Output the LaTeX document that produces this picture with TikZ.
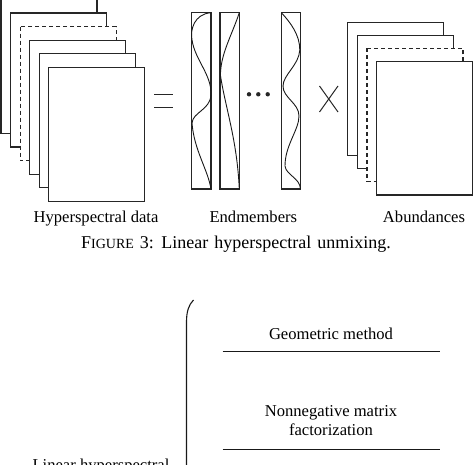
\documentclass[tikz,border=0pt]{standalone}
\usepackage{fontspec}
\setmainfont{Liberation Serif}
\begin{document}
\begin{tikzpicture}[x=1pt,y=-1pt,
  sheet/.style={draw=black!85,line width=1.1pt,fill=white},
  dsheet/.style={sheet,dash pattern=on 4pt off 3pt},
  bar/.style={draw=black!85,line width=1.1pt},
  spec/.style={draw=black!90,line width=0.9pt},
  sym/.style={draw=black!85,line width=1pt},
  lbl/.style={anchor=base,inner sep=0pt,font=\fontsize{16.6}{18}\selectfont},
  rule/.style={draw=black!90,line width=1.2pt}]
\useasboundingbox (0,0) rectangle (474,465);
\clip (0,0) rectangle (474,465);
% hyperspectral data stack
\foreach \k in {0,...,5}{
  \pgfmathsetmacro{\l}{1+9.55*\k}
  \pgfmathsetmacro{\t}{-0.6+13.6*\k}
  \ifnum\k=2
    \draw[dsheet] (\l,\t) rectangle ++(96,134);
  \else
    \draw[sheet] (\l,\t) rectangle ++(96,134);
  \fi
}
% equals sign
\draw[sym] (154,94.3) -- (172.7,94.3);
\draw[sym] (154,107.3) -- (172.7,107.3);
% endmembers
\draw[bar] (191.7,12.7) rectangle (211,189);
\draw[spec] (211,12.7) .. controls (194,14) and (190,30) .. (192,40)
  .. controls (195,60) and (212,75) .. (211,95)
  .. controls (210,110) and (193,112) .. (192,123)
  .. controls (194,150) and (208,170) .. (211,189);
\draw[bar] (220,12.7) rectangle (239.3,189);
\draw[spec] (239.3,12.7) .. controls (232,35) and (220,55) .. (220.5,76)
  .. controls (226,110) and (237,140) .. (239.3,189);
\fill[black!85] (249,94.3) circle (2.2) (258.3,94.3) circle (2.2) (267.7,94.3) circle (2.2);
\draw[bar] (281.7,12.7) rectangle (300.7,189);
\draw[spec] (281.9,13.3) .. controls (290,22) and (300,35) .. (299.8,50)
  .. controls (299,65) and (283,75) .. (283,86)
  .. controls (283,98) and (299,103) .. (299,116)
  .. controls (299,130) and (285,145) .. (285,166)
  .. controls (286,175) and (300,178) .. (300.5,189);
% times sign
\draw[sym] (319.5,86) -- (338,112);
\draw[sym] (319.5,112) -- (338,86);
% abundances stack
\foreach \k in {0,...,3}{
  \pgfmathsetmacro{\l}{347.7+9.67*\k}
  \pgfmathsetmacro{\t}{22.3+13.1*\k}
  \ifnum\k=2
    \draw[dsheet] (\l,\t) rectangle ++(96,133.4);
  \else
    \draw[sheet] (\l,\t) rectangle ++(96,133.4);
  \fi
}
% labels
\node[lbl] (hd) at (96,222.3) {Hyperspectral data};
\node[lbl] (em) at (253.3,222.3) {Endmembers};
\node[lbl] (ab) at (424,222.3) {Abundances};
\node[lbl] (cap) at (236,248.3) {\fontsize{18}{20}\selectfont\spaceskip=6pt plus 1pt F{\fontsize{14}{16}\selectfont IGURE} 3: Linear hyperspectral unmixing.};
% lower figure
\draw[rule,line width=1.1pt] (193.5,300) .. controls (188.5,305) and (186.5,312) .. (186.5,322) -- (186.5,470);
\node[lbl] (gm) at (331,339.3) {Geometric method};
\draw[rule] (222.7,351.7) -- (440,351.7);
\node[lbl] (nm1) at (331,416.7) {Nonnegative matrix};
\node[lbl] (nm2) at (331,435.7) {factorization};
\draw[rule] (222.7,449.3) -- (440,449.3);
\node[lbl] (lh) at (101,470.5) {Linear hyperspectral};
\end{tikzpicture}
\end{document}
